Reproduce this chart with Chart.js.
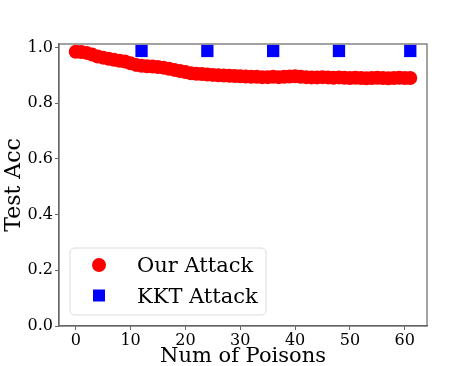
<!DOCTYPE html>
<html>
<head>
<meta charset="utf-8">
<script src="https://cdn.jsdelivr.net/npm/chart.js@4.4.1/dist/chart.umd.min.js"></script>
<style>
html,body{margin:0;padding:0;background:#fff;}
#wrap{width:474px;height:366px;}
</style>
</head>
<body>
<div id="wrap"><canvas id="c" width="474" height="366"></canvas></div>
<script>
// ---- data ----
const ourX = [0,1,2,3,4,5,6,7,8,9,10,11,12,13,14,15,16,17,18,19,20,21,22,23,24,25,26,27,28,29,30,31,32,33,34,35,36,37,38,39,40,41,42,43,44,45,46,47,48,49,50,51,52,53,54,55,56,57,58,59,60,61];
const ourAcc = [0.985,0.984,0.981,0.975,0.968,0.964,0.960,0.956,0.953,0.950,0.944,0.938,0.935,0.933,0.932,0.930,0.928,0.924,0.920,0.916,0.912,0.908,0.906,0.905,0.903,0.902,0.901,0.900,0.899,0.898,0.897,0.896,0.895,0.895,0.894,0.894,0.895,0.894,0.895,0.896,0.897,0.895,0.894,0.893,0.893,0.894,0.893,0.892,0.893,0.892,0.891,0.892,0.891,0.890,0.891,0.892,0.891,0.890,0.891,0.892,0.891,0.891];
const kktX = [12,24,36,48,61];
const kktAcc = [0.988,0.988,0.988,0.988,0.988];
const xTicks = [0,10,20,30,40,50,60];
const yTicks = [0.0,0.2,0.4,0.6,0.8,1.0];
const seriesLabels = ['Our Attack','KKT Attack'];

const FONT = "'DejaVu Serif', serif";

const frame = {
  id:'frame',
  afterDatasetsDraw(chart){
    const a = chart.chartArea, ctx = chart.ctx;
    ctx.save();
    ctx.strokeStyle = '#666';
    ctx.lineWidth = 1.2;
    ctx.strokeRect(a.left, a.top, a.right-a.left, a.bottom-a.top);
    ctx.restore();
  }
};

const innerLegend = {
  id:'innerLegend',
  afterDraw(chart){
    const ctx = chart.ctx;
    const bx = 70, by = 248, bw = 196, bh = 67, r = 5;
    ctx.save();
    ctx.beginPath();
    ctx.moveTo(bx+r,by); ctx.lineTo(bx+bw-r,by); ctx.quadraticCurveTo(bx+bw,by,bx+bw,by+r);
    ctx.lineTo(bx+bw,by+bh-r); ctx.quadraticCurveTo(bx+bw,by+bh,bx+bw-r,by+bh);
    ctx.lineTo(bx+r,by+bh); ctx.quadraticCurveTo(bx,by+bh,bx,by+bh-r);
    ctx.lineTo(bx,by+r); ctx.quadraticCurveTo(bx,by,bx+r,by);
    ctx.closePath();
    ctx.fillStyle = 'rgba(255,255,255,0.8)';
    ctx.fill();
    ctx.strokeStyle = '#dcdcdc';
    ctx.lineWidth = 1;
    ctx.stroke();
    const rows = [265, 295.5];
    chart.data.datasets.forEach((ds,i)=>{
      const y = rows[i];
      ctx.fillStyle = ds.backgroundColor;
      if (ds.pointStyle === 'rect') {
        ctx.fillRect(99-6, y-6, 12, 12);
      } else {
        ctx.beginPath(); ctx.arc(99, y, 7, 0, Math.PI*2); ctx.fill();
      }
      ctx.fillStyle = '#000';
      ctx.font = "21px " + FONT;
      ctx.textBaseline = 'alphabetic';
      ctx.textAlign = 'left';
      ctx.fillText(ds.label, 137, y+7);
    });
    ctx.restore();
  }
};

new Chart(document.getElementById('c'), {
  type:'scatter',
  data:{
    datasets:[
      {label:seriesLabels[0], data:ourX.map((x,i)=>({x:x,y:ourAcc[i]})), backgroundColor:'#ff0000', borderColor:'#ff0000', pointStyle:'circle', pointRadius:7, pointHoverRadius:7, borderWidth:0},
      {label:seriesLabels[1], data:kktX.map((x,i)=>({x:x,y:kktAcc[i]})), backgroundColor:'#0000ff', borderColor:'#0000ff', pointStyle:'rect', pointRadius:8.7, pointHoverRadius:8.7, borderWidth:0}
    ]
  },
  options:{
    responsive:false,
    animation:false,
    layout:{padding:{top:44,right:47,left:0,bottom:0}},
    plugins:{legend:{display:false}, tooltip:{enabled:false}},
    scales:{
      x:{
        type:'linear', min:-3.05, max:64.05,
        afterBuildTicks(s){ s.ticks = xTicks.map(v=>({value:v})); },
        afterFit(s){ s.height = 40; },
        grid:{display:true, drawOnChartArea:false, drawTicks:true, tickLength:4, color:'#666'},
        border:{display:true, color:'#666', width:1.2},
        ticks:{font:{family:FONT,size:16}, color:'#000', padding:1, maxRotation:0, callback:v=>String(v)},
        title:{display:true, text:'Num of Poisons', font:{family:FONT,size:21,lineHeight:1.0}, color:'#000', padding:{top:0,bottom:-1}}
      },
      y:{
        type:'linear', min:0, max:1.013,
        afterBuildTicks(s){ s.ticks = yTicks.map(v=>({value:v})); },
        afterFit(s){ s.width = 59; },
        grid:{display:true, drawOnChartArea:false, drawTicks:true, tickLength:4, color:'#666'},
        border:{display:true, color:'#666', width:1.2},
        ticks:{font:{family:FONT,size:16}, color:'#000', padding:2, callback:v=>Number(v).toFixed(1)},
        title:{display:true, text:'Test Acc', font:{family:FONT,size:22,lineHeight:1.0}, color:'#000', padding:{top:3,bottom:0}}
      }
    }
  },
  plugins:[frame, innerLegend]
});
</script>
</body>
</html>
